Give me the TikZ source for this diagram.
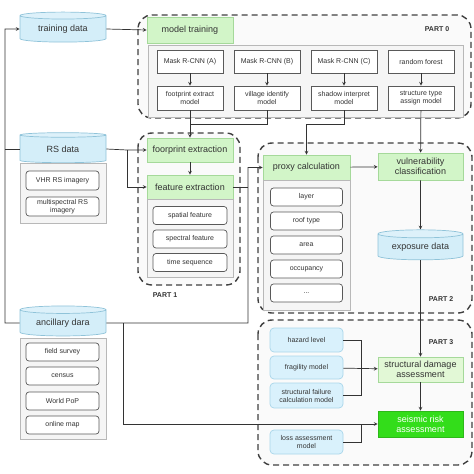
\documentclass[tikz,border=0pt]{standalone}
\usepackage{fontspec}
\setmainfont{Liberation Sans}
\usetikzlibrary{shapes.geometric,arrows,shadows}

\definecolor{cylfill}{HTML}{D4EEF9}
\definecolor{cylline}{HTML}{8FC3D9}
\definecolor{grfill}{HTML}{D2F5C8}
\definecolor{grline}{HTML}{A5D99A}
\definecolor{ltgreen}{HTML}{E2F8D6}
\definecolor{riskfill}{HTML}{33DD1A}
\definecolor{riskline}{HTML}{2DB819}
\definecolor{bluefill}{HTML}{D9F1FC}
\definecolor{blueline}{HTML}{A9D6EA}
\definecolor{panelfill}{HTML}{F5F5F5}
\definecolor{panelline}{HTML}{B8B8B8}
\definecolor{txt}{HTML}{333333}

\tikzset{
  part/.style={draw=black!75, fill=black!2, line width=1.4pt, dash pattern=on 6pt off 4pt, rounded corners=14pt},
  partlabel/.style={font=\fontsize{7}{8}\selectfont\bfseries, text=txt, inner sep=0pt},
  db/.style={cylinder, shape border rotate=90, aspect=0.14, draw=cylline, line width=0.7pt,
    cylinder uses custom fill, cylinder body fill=cylfill, cylinder end fill=cylfill!80!white,
    minimum width=86pt, minimum height=30pt, inner sep=0pt, text=txt, font=\fontsize{9}{10}\selectfont},
  stepbox/.style={draw=grline, fill=grfill, line width=0.7pt, minimum width=86pt, minimum height=25pt,
    inner sep=1pt, align=center, text=txt, font=\fontsize{9}{10}\selectfont,
    drop shadow={opacity=0.2, shadow xshift=1pt, shadow yshift=-1pt}},
  panel/.style={draw=panelline, fill=panelfill, line width=0.6pt, minimum width=86pt, inner sep=0pt,
    drop shadow={opacity=0.15, shadow xshift=1pt, shadow yshift=-1pt}},
  item/.style={draw=black!65, fill=white, line width=0.7pt, rounded corners=3pt, minimum width=73pt,
    minimum height=18pt, inner sep=1pt, align=center, text=txt, font=\fontsize{7}{7.5}\selectfont},
  model/.style={draw=black!65, fill=white, line width=0.7pt, minimum width=66pt, minimum height=23pt,
    inner sep=1pt, align=center, text=txt, font=\fontsize{7}{8}\selectfont},
  inbox/.style={draw=blueline, fill=bluefill, line width=0.7pt, rounded corners=4pt, minimum width=73pt,
    minimum height=24pt, inner sep=1pt, align=center, text=txt, font=\fontsize{7}{8}\selectfont},
  conn/.style={draw=black!80, line width=0.7pt},
}

\begin{document}
\begin{tikzpicture}[x=1pt,y=-1pt,>=stealth]
\useasboundingbox (0,0) rectangle (474,474);

% dashed parts
\draw[part] (138,15) rectangle (471,118);
\draw[part] (138,133) rectangle (240,285);
\draw[part] (258,143) rectangle (472,313);
\draw[part] (258,320) rectangle (472,465);
\node[partlabel] (p0) at (437,29) {PART 0};
\node[partlabel] (p1) at (165,295) {PART 1};
\node[partlabel] (p2) at (441,299) {PART 2};
\node[partlabel] (p3) at (441,342) {PART 3};

% input data
\node[db] (train) at (63,29) {training data};
\node[db] (rs) at (63,149) {RS data};
\node[panel, minimum height=60pt] (rslist) at (63,193) {};
\node[item, minimum height=19pt] (vhr) at (62.5,180.5) {VHR RS imagery};
\node[item, minimum height=19pt] (multi) at (62.5,206.5) {multispectral RS\\imagery};
\node[db] (anc) at (63,323) {ancillary dara};
\node[panel, minimum height=101pt] (anclist) at (63,388.5) {};
\node[item] (survey) at (62.5,352) {field survey};
\node[item] (census) at (62.5,376) {census};
\node[item] (pop) at (62.5,401) {World PoP};
\node[item] (map) at (62.5,425) {online map};

% part 0
\node[panel, minimum width=315pt, minimum height=72pt] (mpanel) at (305.5,81) {};
\node[stepbox, minimum height=26pt] (mtrain) at (190,30) {model training};
\node[model] (ma) at (190,61.5) {Mask R-CNN (A)};
\node[model] (mb) at (267,61.5) {Mask R-CNN (B)};
\node[model] (mc) at (344,61.5) {Mask R-CNN (C)};
\node[model] (md) at (421,61.5) {random forest};
\node[model, minimum height=24pt] (oa) at (190,98) {footprint extract\\model};
\node[model, minimum height=24pt] (ob) at (267,98) {village identify\\model};
\node[model, minimum height=24pt] (oc) at (344,98) {shadow interpret\\model};
\node[model, minimum height=24pt] (od) at (421,98) {structure type\\assign model};

% part 1
\node[stepbox, minimum height=24pt] (fp) at (190,150) {foorprint extraction};
\node[stepbox, minimum height=24pt] (fe) at (190,187) {feature extraction};
\node[panel, minimum height=78pt] (felist) at (190,238) {};
\node[item, minimum width=74pt] (spatial) at (190,215.5) {spatial feature};
\node[item, minimum width=74pt] (spectral) at (190,239) {spectral feature};
\node[item, minimum width=74pt] (time) at (190,262.5) {time sequence};

% part 2
\node[stepbox, minimum width=87pt] (proxy) at (306.5,167.5) {proxy calculation};
\node[panel, minimum width=87pt, minimum height=130pt] (proxylist) at (306.5,245) {};
\node[item, minimum width=72pt] (layer) at (306.5,197) {layer};
\node[item, minimum width=72pt] (roof) at (306.5,221) {roof type};
\node[item, minimum width=72pt] (area) at (306.5,245) {area};
\node[item, minimum width=72pt] (occ) at (306.5,269) {occupancy};
\node[item, minimum width=72pt] (more) at (306.5,293) {...};
\node[stepbox, minimum width=85pt, minimum height=27pt] (vuln) at (420.5,166.5) {vulnerability\\classification};
\node[db, minimum width=85pt] (expo) at (420.5,247) {exposure data};

% part 3
\node[inbox] (hazard) at (306.5,340) {hazard level};
\node[inbox, minimum height=23pt] (fragility) at (306.5,367.5) {fragility model};
\node[inbox, minimum height=25pt] (failure) at (306.5,395.5) {structural failure\\calculation model};
\node[inbox] (loss) at (306.5,442) {loss assessment\\model};
\node[stepbox, fill=ltgreen, minimum width=85pt] (sda) at (420.5,369.5) {structural damage\\assessment};
\node[stepbox, fill=riskfill, draw=riskline, text=white, minimum width=85pt, minimum height=26pt] (sra) at (420.5,424) {seismic risk\\assessment};

% junctions
\coordinate (jl) at (5,323);
\coordinate (jr) at (248,323);
\coordinate (jp) at (248,167.5);
\coordinate (jrs) at (127,150);
\coordinate (jb) at (267,124);
\coordinate (jc) at (344,124);
\coordinate (jh) at (361,340);
\coordinate (jx) at (361,424);

% connectors
\draw[conn,->] (anc.west) -- (jl) |- (train.west);
\draw[conn] (rs.west) -- (rs.west -| jl);
\draw[conn,->] (train.east) -- (mtrain.west);
\foreach \t/\b in {ma/oa,mb/ob,mc/oc,md/od}
    \draw[conn,->] (\t) -- (\b);
\draw[conn,->] (oa) -- (fp);
\draw[conn] (ob) -- (jb) -- (jb -| oa);
\draw[conn,->] (oc) -- (jc) -| (proxy);
\draw[conn,->] (od) -- (vuln);
\draw[conn,->] (rs.east) -- (jrs) -- (fp.west);
\draw[conn,->] (jrs) |- (fe.west);
\draw[conn,->] (fp) -- (fe);
\draw[conn] (fe.east) -- (fe.east -| jr);
\draw[conn,->] (anc.east) -- (jr) -- (jp) -- (proxy.west);
\draw[conn,->] (anc.east -| 123,0) -- (123,424) -- (sra.west);
\draw[conn,->] (proxy) -- (vuln);
\draw[conn,->] (vuln) -- (expo);
\draw[conn,->] (expo) -- (sda);
\draw[conn] (hazard.east) -- (jh) |- (failure.east);
\draw[conn,->] (fragility) -- (sda);
\draw[conn,->] (sda) -- (sra);
\draw[conn] (loss.east) -| (jx);

\end{tikzpicture}
\end{document}
